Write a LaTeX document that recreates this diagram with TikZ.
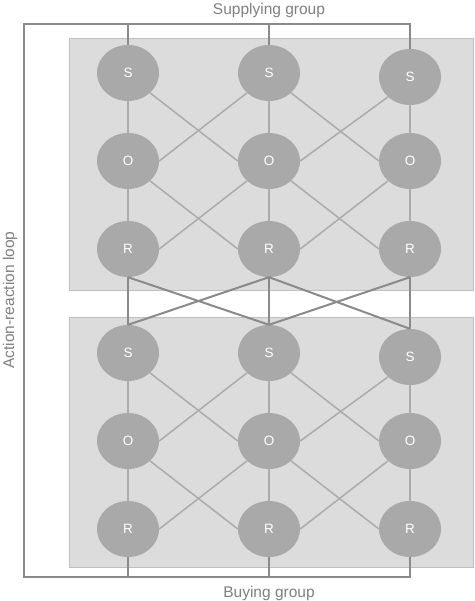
\documentclass[tikz,border=0pt]{standalone}
\usepackage{fontspec}
\setmainfont{Liberation Sans}
\usetikzlibrary{shapes.geometric}
\definecolor{rectfill}{HTML}{DCDCDD}
\definecolor{rectline}{HTML}{BFBFC0}
\definecolor{nodefill}{HTML}{A9A9A9}
\definecolor{innerline}{HTML}{ABABAB}
\definecolor{outerline}{HTML}{8A8A8A}
\definecolor{labelcol}{HTML}{7F7F7F}
\tikzset{
  grouprect/.style={fill=rectfill, draw=rectline, line width=1pt},
  agent/.style={ellipse, fill=nodefill, draw=none, minimum width=62pt, minimum height=56pt, inner sep=0pt, text=white, font=\fontsize{13.5}{14}\selectfont},
  inner/.style={draw=innerline, line width=1.5pt},
  outer/.style={draw=outerline, line width=2pt},
  lbl/.style={text=labelcol, font=\fontsize{15.5}{16}\selectfont, inner sep=0pt}
}
\begin{document}
\begin{tikzpicture}[x=1pt,y=-1pt]
\useasboundingbox (0,0) rectangle (474,601);
% group rectangles
\path[grouprect] (69,39) rectangle (473.5,290);
\path[grouprect] (69,317) rectangle (473.5,567);
% supplying group nodes
\node[agent] (as1) at (128,73) {S};
\node[agent] (as2) at (269,73) {S};
\node[agent] (as3) at (410,77) {S};
\node[agent] (ao1) at (128,161) {O};
\node[agent] (ao2) at (269,161) {O};
\node[agent] (ao3) at (410,161) {O};
\node[agent] (ar1) at (128,249) {R};
\node[agent] (ar2) at (269,249) {R};
\node[agent] (ar3) at (410,249) {R};
% buying group nodes
\node[agent] (bs1) at (128,353) {S};
\node[agent] (bs2) at (269,353) {S};
\node[agent] (bs3) at (410,357) {S};
\node[agent] (bo1) at (128,441) {O};
\node[agent] (bo2) at (269,441) {O};
\node[agent] (bo3) at (410,441) {O};
\node[agent] (br1) at (128,529) {R};
\node[agent] (br2) at (269,529) {R};
\node[agent] (br3) at (410,529) {R};
% inner connections
\foreach \g in {a,b}{
  \foreach \u/\l in {s/o,o/r}{
    \draw[inner] (\g\u1.south) -- (\g\l1.north);
    \draw[inner] (\g\u2.south) -- (\g\l2.north);
    \draw[inner] (\g\u3.south) -- (\g\l3.north);
    \draw[inner] (\g\u1.south east) -- (\g\l2.west);
    \draw[inner] (\g\u2.south west) -- (\g\l1.east);
    \draw[inner] (\g\u2.south east) -- (\g\l3.west);
    \draw[inner] (\g\u3.south west) -- (\g\l2.east);
  }
}
% connections between groups
\draw[outer] (ar1.south) -- (bs1.north);
\draw[outer] (ar2.south) -- (bs2.north);
\draw[outer] (ar3.south) -- (bs3.north);
\draw[outer] (ar1.south) -- (bs2.north);
\draw[outer] (ar2.south) -- (bs1.north);
\draw[outer] (ar2.south) -- (bs3.north);
\draw[outer] (ar3.south) -- (bs2.north);
% action-reaction loop
\coordinate (tl) at (24,24);
\coordinate (bl) at (24,577);
\draw[outer] (as3.north) |- (tl) -- (bl) -| (br3.south);
\draw[outer] (as1.north) -- (as1.north |- tl);
\draw[outer] (as2.north) -- (as2.north |- tl);
\draw[outer] (br1.south) -- (br1.south |- bl);
\draw[outer] (br2.south) -- (br2.south |- bl);
% labels
\node[lbl, anchor=base] (sup) at (269,15) {Supplying group};
\node[lbl, anchor=base] (buy) at (269,597) {Buying group};
\node[lbl, anchor=base, rotate=90] (loop) at (14,300) {Action-reaction loop};
\end{tikzpicture}
\end{document}
